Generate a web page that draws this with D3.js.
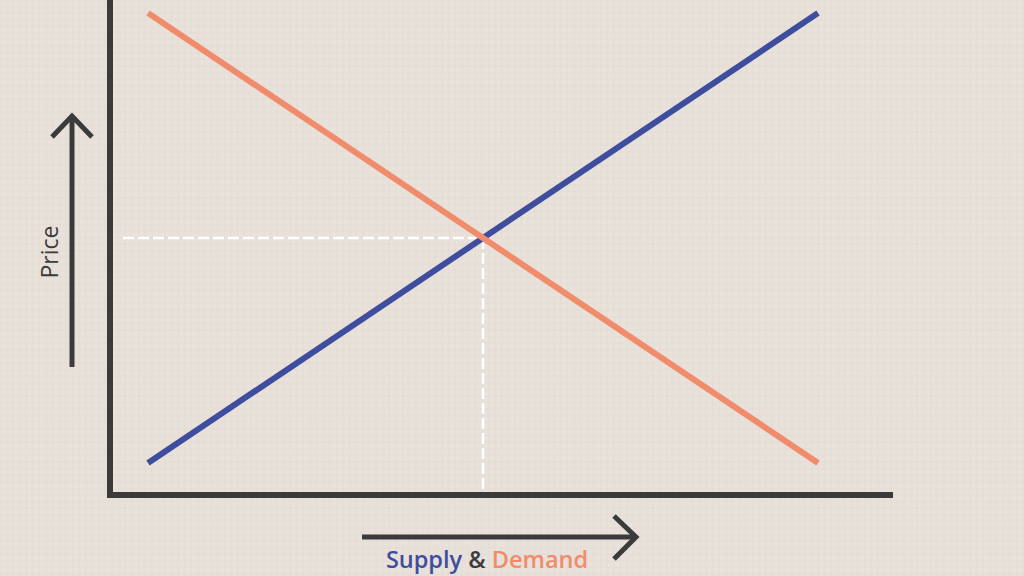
<!DOCTYPE html>
<html>
<head>
<meta charset="utf-8">
<script src="https://cdn.jsdelivr.net/npm/d3@7"></script>
<style>
  html, body { margin: 0; padding: 0; background: #e9e2db; }
  svg { display: block; }
</style>
</head>
<body>
<div id="chart"></div>
<script>
// Stylised supply & demand diagram
const supply = [{q: 1, p: 1}, {q: 9, p: 9}];
const demand = [{q: 1, p: 9}, {q: 9, p: 1}];
const equilibrium = {q: 5, p: 5};
const labels = {price: 'Price', supply: 'Supply', and: '&', demand: 'Demand'};

const width = 1024, height = 576;
const colors = {bg: '#e9e2db', grid: '#ddd5cd', axis: '#3b3b3b', supply: '#3f4d9e', demand: '#f08c6c', dash: '#ffffff'};

const svg = d3.select('#chart').append('svg')
  .attr('width', width)
  .attr('height', height);

svg.append('rect').attr('width', width).attr('height', height).attr('fill', colors.bg);

// faint paper grid
const grid = svg.append('g').attr('stroke', colors.grid).attr('stroke-width', 0.6).attr('opacity', 0.6);
grid.selectAll('line.v').data(d3.range(0, width, 6.6)).join('line')
  .attr('x1', d => d).attr('x2', d => d).attr('y1', 0).attr('y2', height);
grid.selectAll('line.h').data(d3.range(0, height, 6.6)).join('line')
  .attr('y1', d => d).attr('y2', d => d).attr('x1', 0).attr('x2', width);

// scales
const x = d3.scaleLinear().domain([1, 9]).range([148, 818]);
const y = d3.scaleLinear().domain([1, 9]).range([463, 13]);

const axisX = 110, axisY = 495;

// main axes
svg.append('line')
  .attr('x1', axisX).attr('x2', axisX).attr('y1', 0).attr('y2', axisY + 3)
  .attr('stroke', colors.axis).attr('stroke-width', 6);
svg.append('line')
  .attr('x1', axisX - 3).attr('x2', 893).attr('y1', axisY).attr('y2', axisY)
  .attr('stroke', colors.axis).attr('stroke-width', 6);

// equilibrium guides
svg.append('line')
  .attr('x1', 123).attr('x2', x(equilibrium.q)).attr('y1', y(equilibrium.p)).attr('y2', y(equilibrium.p))
  .attr('stroke', colors.dash).attr('stroke-width', 2.5).attr('stroke-dasharray', '11,4');
svg.append('line')
  .attr('x1', x(equilibrium.q)).attr('x2', x(equilibrium.q)).attr('y1', y(equilibrium.p)).attr('y2', 489)
  .attr('stroke', colors.dash).attr('stroke-width', 2.5).attr('stroke-dasharray', '11,4');

const line = d3.line().x(d => x(d.q)).y(d => y(d.p));

svg.append('path').datum(supply)
  .attr('d', line).attr('fill', 'none')
  .attr('stroke', colors.supply).attr('stroke-width', 6);
svg.append('path').datum(demand)
  .attr('d', line).attr('fill', 'none')
  .attr('stroke', colors.demand).attr('stroke-width', 6);

// price arrow
const arrow = svg.append('g').attr('fill', 'none').attr('stroke', colors.axis)
  .attr('stroke-width', 5);
arrow.append('line').attr('x1', 72).attr('x2', 72).attr('y1', 367).attr('y2', 115);
arrow.append('path').attr('d', 'M52,137 L72,116 L92,137');
// quantity arrow
arrow.append('line').attr('x1', 362).attr('x2', 635).attr('y1', 537).attr('y2', 537);
arrow.append('path').attr('d', 'M614,516 L636,537 L614,559');

svg.append('text')
  .attr('transform', 'translate(58,252) rotate(-90)')
  .attr('text-anchor', 'middle')
  .attr('font-family', 'Open Sans, sans-serif')
  .attr('font-size', 23)
  .attr('font-weight', 500)
  .attr('fill', colors.axis)
  .text(labels.price);

const t = svg.append('text')
  .attr('x', 487).attr('y', 568)
  .attr('text-anchor', 'middle')
  .attr('font-family', 'Open Sans, sans-serif')
  .attr('font-size', 23.5)
  .attr('font-weight', 600);
t.append('tspan').attr('fill', colors.supply).text(labels.supply);
t.append('tspan').attr('fill', colors.axis).text(' ' + labels.and + ' ');
t.append('tspan').attr('fill', colors.demand).text(labels.demand);
</script>
</body>
</html>
